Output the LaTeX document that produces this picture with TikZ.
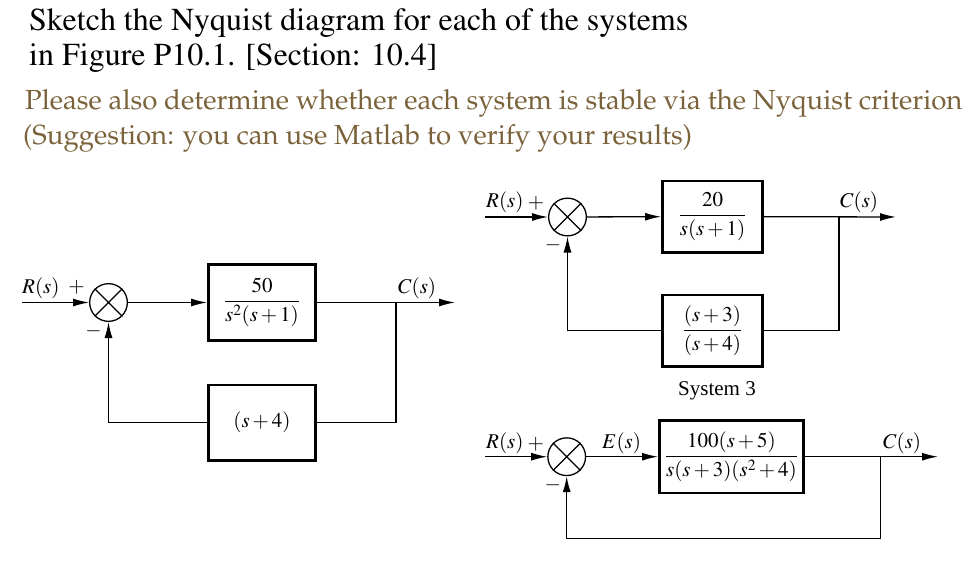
\documentclass[tikz,border=0pt]{standalone}
\usepackage{amsmath}
\usepackage{mathptmx}
\usepackage{fontspec}
\setmainfont{Liberation Serif}
\usetikzlibrary{arrows.meta,positioning,calc}
\definecolor{hint}{RGB}{122,98,58}

\begin{document}
\begin{tikzpicture}[x=1pt,y=-1pt,
    >={Latex[length=16pt,width=8pt]},
    wire/.style={line width=1.3pt},
    block/.style={draw,line width=2.6pt,inner sep=0pt,font=\fontsize{21}{25}\selectfont},
    summer/.style={draw,circle,line width=1.3pt,minimum size=37.7pt,inner sep=0pt},
    sig/.style={inner sep=0pt,anchor=base west,font=\fontsize{21}{25}\selectfont},
    sgn/.style={inner sep=0pt,font=\fontsize{21}{25}\selectfont},
    ask/.style={inner sep=0pt,anchor=base west,
      font=\fontsize{32}{38}\fontencoding{OT1}\fontfamily{ptm}\selectfont},
    hintline/.style={inner sep=0pt,anchor=base west,text=hint,
      font=\fontsize{27.6}{33}\fontencoding{OT1}\fontfamily{ppl}\selectfont}]

    \useasboundingbox (0,0) rectangle (973,571);

    % Question text
    \node[ask] (q1) at (29,30.5) {Sketch the Nyquist diagram for each of the systems};
    \node[ask] (q2) at (29,65) {in Figure P10.1. [Section: 10.4]};
    \node[hintline] (q3) at (25,109) {Please also determine whether each system is stable via the Nyquist criterion};
    \node[hintline] (q4) at (23,144) {(Suggestion: you can use Matlab to verify your results)};

    % System 1 (left)
    \node[summer] (sum1) at (108.5,302.5) {};
    \draw[wire] (sum1.45) -- (sum1.225) (sum1.135) -- (sum1.315);
    \node[block,minimum width=107.4pt,minimum height=76.4pt] (g1) at (262,302.5) {$\dfrac{50}{s^2(s+1)}$};
    \node[block,minimum width=107.4pt,minimum height=75.4pt] (h1) at (262,422.5) {$(s+4)$};
    \coordinate (in1) at (22,302.5);
    \coordinate (br1) at (396,302.5);
    \coordinate (out1) at (455,302.5);
    \draw[wire,->] (in1) -- (sum1);
    \draw[wire,->] (sum1) -- (g1);
    \draw[wire,->] (g1) -- (out1);
    \draw[wire] (br1) |- (h1);
    \draw[wire,->] (h1) -| (sum1);
    \node[sig] (r1) at (22,293) {$R(s)$};
    \node[sgn] (p1) at ($(sum1)+(-32,-15)$) {$+$};
    \node[sgn] (m1) at ($(sum1)+(-15,29)$) {$-$};
    \node[sig] (c1) at (398,293) {$C(s)$};

    % System 3 (top right)
    \node[summer] (sum2) at (567.5,217) {};
    \draw[wire] (sum2.45) -- (sum2.225) (sum2.135) -- (sum2.315);
    \node[block,minimum width=100.4pt,minimum height=71.4pt] (g2) at (712.5,216.5) {$\dfrac{20}{s(s+1)}$};
    \node[block,minimum width=100.4pt,minimum height=71.4pt] (h2) at (712.5,330.5) {$\dfrac{(s+3)}{(s+4)}$};
    \coordinate (in2) at (485,217);
    \coordinate (br2) at (839,217);
    \coordinate (out2) at (896,217);
    \draw[wire,->] (in2) -- (sum2);
    \draw[wire,->] (sum2) -- (g2);
    \draw[wire,->] (g2) -- (out2);
    \draw[wire] (br2) |- (h2);
    \draw[wire,->] (h2) -| (sum2);
    \node[sig] (r2) at (486,207) {$R(s)$};
    \node[sgn] (p2) at ($(sum2)+(-31.5,-14)$) {$+$};
    \node[sgn] (m2) at ($(sum2)+(-14.5,28)$) {$-$};
    \node[sig] (c2) at (840,207) {$C(s)$};
    \node[sgn,anchor=base] (sys3) at (717,395) {System 3};

    % System 4 (bottom right)
    \node[summer] (sum3) at (566.7,456.7) {};
    \draw[wire] (sum3.45) -- (sum3.225) (sum3.135) -- (sum3.315);
    \node[block,minimum width=144.4pt,minimum height=72.4pt] (g3) at (731.5,456.7) {$\dfrac{100(s+5)}{s(s+3)(s^2+4)}$};
    \coordinate (in3) at (485,456.7);
    \coordinate (br3) at (880.7,456.7);
    \coordinate (out3) at (938,456.7);
    \coordinate (fb3) at (880.7,538.3);
    \draw[wire,->] (in3) -- (sum3);
    \draw[wire,->] (sum3) -- (g3);
    \draw[wire,->] (g3) -- (out3);
    \draw[wire,->] (br3) -- (fb3) -| (sum3);
    \node[sig] (r3) at (486,448) {$R(s)$};
    \node[sgn] (p3) at ($(sum3)+(-31,-12)$) {$+$};
    \node[sgn] (m3) at ($(sum3)+(-14,29)$) {$-$};
    \node[sig] (e3) at (602,448) {$E(s)$};
    \node[sig] (c3) at (883,448) {$C(s)$};
\end{tikzpicture}
\end{document}
